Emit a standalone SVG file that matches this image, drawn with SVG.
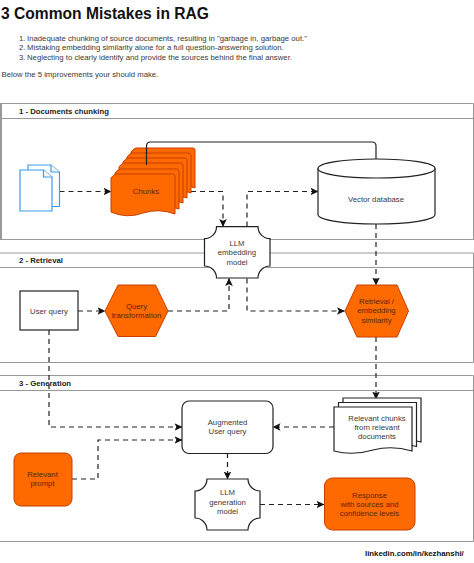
<svg xmlns="http://www.w3.org/2000/svg" width="474" height="563" viewBox="0 0 474 563">
<style>
text{font-family:"Liberation Sans",Arial,sans-serif;fill:#3a3a3a;font-size:7.75px}
.c{text-anchor:middle}
.t{fill:#5a2400}
.b{font-weight:bold;fill:#222}
.lane{fill:none;stroke:#999;stroke-width:1}
.w{fill:#fff;stroke:#222;stroke-width:1.2}
.o{fill:#ff6a00;stroke:#c73f00;stroke-width:1}
.doc{fill:#fff;stroke:#3d9be9;stroke-width:1.2}
.e{fill:none;stroke:#222;stroke-width:1.2;stroke-dasharray:5 4}
</style>
<defs>
<marker id="a" viewBox="0 0 8 8" refX="7.5" refY="4" markerWidth="8" markerHeight="8" markerUnits="userSpaceOnUse" orient="auto"><path d="M0 0.2L8 4L0 7.8L1.8 4Z" fill="#111"/></marker>
<path id="chunk" d="M111 178Q113 175 116 174H173Q175 174 175 176V214Q159 208 143 213Q127 219 111 212Z"/>
<path id="rel" d="M334 407H412V451Q392 445 373 450Q353 456 334 451Z"/>
</defs>
<rect width="474" height="563" fill="#fff"/>
<g id="header">
<text x="1" y="18.500" style="font-size:15.6px;font-weight:bold;fill:#111">3 Common Mistakes in RAG</text>
<text x="19" y="40.500">1.</text><text x="27" y="40.500">Inadequate chunking of source documents, resulting in "garbage in, garbage out."</text>
<text x="19" y="50">2.</text><text x="27" y="50">Mistaking embedding similarity alone for a full question-answering solution.</text>
<text x="19" y="60">3.</text><text x="27" y="60">Neglecting to clearly identify and provide the sources behind the final answer.</text>
<text x="1.500" y="77">Below the 5 improvements your should make.</text>
</g>
<g id="lanes">
<path class="lane" style="stroke-width:2" d="M1 103.500V239"/>
<path class="lane" d="M0 103.500H473.500V239.500H0M0 118.500H473.500"/>
<text class="b" x="19" y="114">1 - Documents chunking</text>
<path class="lane" d="M0 253H473.500V362.500H0M0 267.500H473.500"/>
<text class="b" x="19" y="263">2 - Retrieval</text>
<path class="lane" d="M0 375.500H473.500V541.500H0M0 390.500H473.500"/>
<text class="b" x="19" y="386">3 - Generation</text>
</g>
<g id="connectors">
<path class="e" marker-end="url(#a)" d="M59.500 191.500H111"/>
<path class="e" marker-end="url(#a)" d="M182 191.500H223V226.500"/>
<path class="e" marker-end="url(#a)" d="M247 226.500V191.500H318"/>
<path class="e" marker-end="url(#a)" d="M376 224V285"/>
<path class="e" marker-end="url(#a)" d="M78 311H105"/>
<path class="e" marker-end="url(#a)" d="M168 311H229V278.500"/>
<path class="e" marker-end="url(#a)" d="M247 278.500V311H344.500"/>
<path class="e" marker-end="url(#a)" d="M376 337V399"/>
<path class="e" marker-end="url(#a)" d="M49 330V427H182"/>
<path class="e" marker-end="url(#a)" d="M72 479H98V440H182"/>
<path class="e" marker-end="url(#a)" d="M334 427H273"/>
<path class="e" marker-end="url(#a)" d="M227.500 453V479"/>
<path class="e" marker-end="url(#a)" d="M260 504.500H324"/>
</g>
<g id="docs">
<path class="doc" d="M28 165H51L59.500 172V206.500H28Z"/><path class="doc" d="M51 165V172H59.500"/>
<path class="doc" d="M20 170H43.500L52 177V211H20Z"/><path class="doc" d="M43.500 170V177H52"/>
</g>
<g id="chunks">
<use href="#chunk" class="o" x="20" y="-26"/>
<use href="#chunk" class="o" x="16" y="-21"/>
<use href="#chunk" class="o" x="12" y="-16"/>
<use href="#chunk" class="o" x="8" y="-11"/>
<use href="#chunk" class="o" x="4" y="-5"/>
<use href="#chunk" class="o"/>
<text class="c t" x="146" y="194">Chunks</text>
</g>
<path id="chunks-to-db" d="M146.500 165V146Q146.500 142 150.500 142H372Q376 142 376 146V159" fill="none" stroke="#222" stroke-width="1.2"/>
<g id="vector-db">
<path class="w" d="M318 168.500C318 163 344 159 376.500 159S435 163 435 168.500V214.500C435 220 409 224 376.500 224S318 220 318 214.500Z"/>
<path class="w" style="fill:none" d="M318 168.500C318 174 344 178 376.500 178S435 174 435 168.500"/>
<text class="c" x="376" y="201.500">Vector database</text>
</g>
<g id="llm-embedding">
<path class="w" d="M216.500 226.700H258A12 12 0 0 0 270 238.700V266A12 12 0 0 0 258 278H216.500A12 12 0 0 0 204.500 266V238.700A12 12 0 0 0 216.500 226.700Z"/>
<text class="c" x="237" y="246">LLM</text><text class="c" x="237" y="255">embedding</text><text class="c" x="237" y="264.500">model</text>
</g>
<g id="user-query">
<rect class="w" x="20" y="291" width="58" height="39"/>
<text class="c" x="49" y="313.500">User query</text>
</g>
<g id="query-transformation">
<path class="o" d="M105 311L118 285H155.500L168 311L155.500 336.500H118Z"/>
<text class="c t" x="136.500" y="308.500">Query</text><text class="c t" x="136.500" y="318">transformation</text>
</g>
<g id="retrieval">
<path class="o" d="M345 311L357 285H397L408.500 311L397 337H357Z"/>
<text class="c t" x="376.500" y="303.500">Retrieval /</text><text class="c t" x="376.500" y="313">embedding</text><text class="c t" x="376.500" y="322.500">similarity</text>
</g>
<g id="relevant-chunks">
<use href="#rel" class="w" x="9" y="-9"/>
<use href="#rel" class="w" x="4.500" y="-4.500"/>
<use href="#rel" class="w"/>
<text class="c" x="377" y="420.500">Relevant chunks</text><text class="c" x="377" y="429.500">from relevant</text><text class="c" x="377" y="439">documents</text>
</g>
<g id="augmented">
<rect class="w" x="182" y="401" width="91" height="52.500" rx="7"/>
<text class="c" x="227.500" y="425">Augmented</text><text class="c" x="227.500" y="434">User query</text>
</g>
<g id="relevant-prompt">
<rect class="o" x="14" y="453" width="58" height="53" rx="7"/>
<text class="c t" x="42.500" y="476.500">Relevant</text><text class="c t" x="42.500" y="486">prompt</text>
</g>
<g id="llm-generation">
<path class="w" d="M207 479H248A12 12 0 0 0 260 491V518A12 12 0 0 0 248 530H207A12 12 0 0 0 195 518V491A12 12 0 0 0 207 479Z"/>
<text class="c" x="227.500" y="495">LLM</text><text class="c" x="227.500" y="504.500">generation</text><text class="c" x="227.500" y="514">model</text>
</g>
<g id="response">
<rect class="o" x="324.500" y="478" width="90.500" height="52" rx="8"/>
<text class="c t" x="369.500" y="497.500">Response</text><text class="c t" x="369.500" y="506.500">with sources and</text><text class="c t" x="369.500" y="516">confidence levels</text>
</g>
<text id="credit" class="b" x="365" y="556" style="font-size:7.800px;fill:#111">linkedin.com/in/kezhanshi/</text>
</svg>
